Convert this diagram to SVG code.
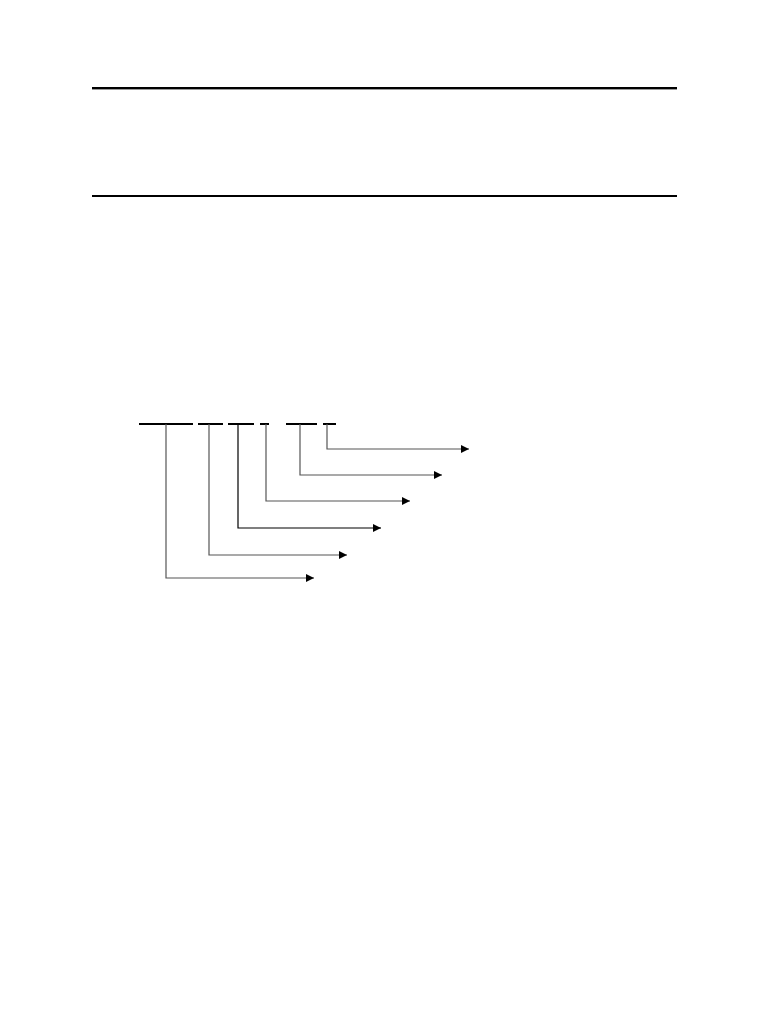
<svg xmlns="http://www.w3.org/2000/svg" width="768" height="1024" viewBox="0 0 768 1024">
<style>
.rule{stroke:#000;stroke-width:2;fill:none}
.seg{stroke:#000;stroke-width:2;fill:none}
.conn{stroke:#555;stroke-width:1.2;fill:none}
.dark{stroke:#000}
</style>
<defs>
<marker id="ah" viewBox="0 0 10 10" refX="10" refY="5" markerWidth="8" markerHeight="8" markerUnits="userSpaceOnUse" orient="auto">
<path d="M0,0 L10,5 L0,10 z" fill="#000"/>
</marker>
</defs>
<rect width="768" height="1024" fill="#fff"/>
<g id="rules">
<line class="rule" x1="92" y1="88" x2="677" y2="88"/>
<line x1="92" y1="89.5" x2="677" y2="89.5" stroke="#999" stroke-width="1"/>
<line class="rule" x1="92" y1="196" x2="677" y2="196"/>
</g>
<g id="fields">
<line class="seg" x1="139" y1="424" x2="193" y2="424"/>
<line class="seg" x1="198" y1="424" x2="223" y2="424"/>
<line class="seg" x1="228" y1="424" x2="254" y2="424"/>
<line class="seg" x1="260" y1="424" x2="269" y2="424"/>
<line class="seg" x1="286" y1="424" x2="317" y2="424"/>
<line class="seg" x1="323" y1="424" x2="336" y2="424"/>
</g>
<g id="connectors">
<polyline class="conn" points="327,424 327,449 469,449" marker-end="url(#ah)"/>
<polyline class="conn" points="300,424 300,475 442,475" marker-end="url(#ah)"/>
<polyline class="conn" points="266,424 266,501 410,501" marker-end="url(#ah)"/>
<polyline class="conn dark" points="238,424 238,528 381,528" marker-end="url(#ah)"/>
<polyline class="conn" points="209,424 209,555 347,555" marker-end="url(#ah)"/>
<polyline class="conn" points="166,424 166,578 314,578" marker-end="url(#ah)"/>
</g>
</svg>
